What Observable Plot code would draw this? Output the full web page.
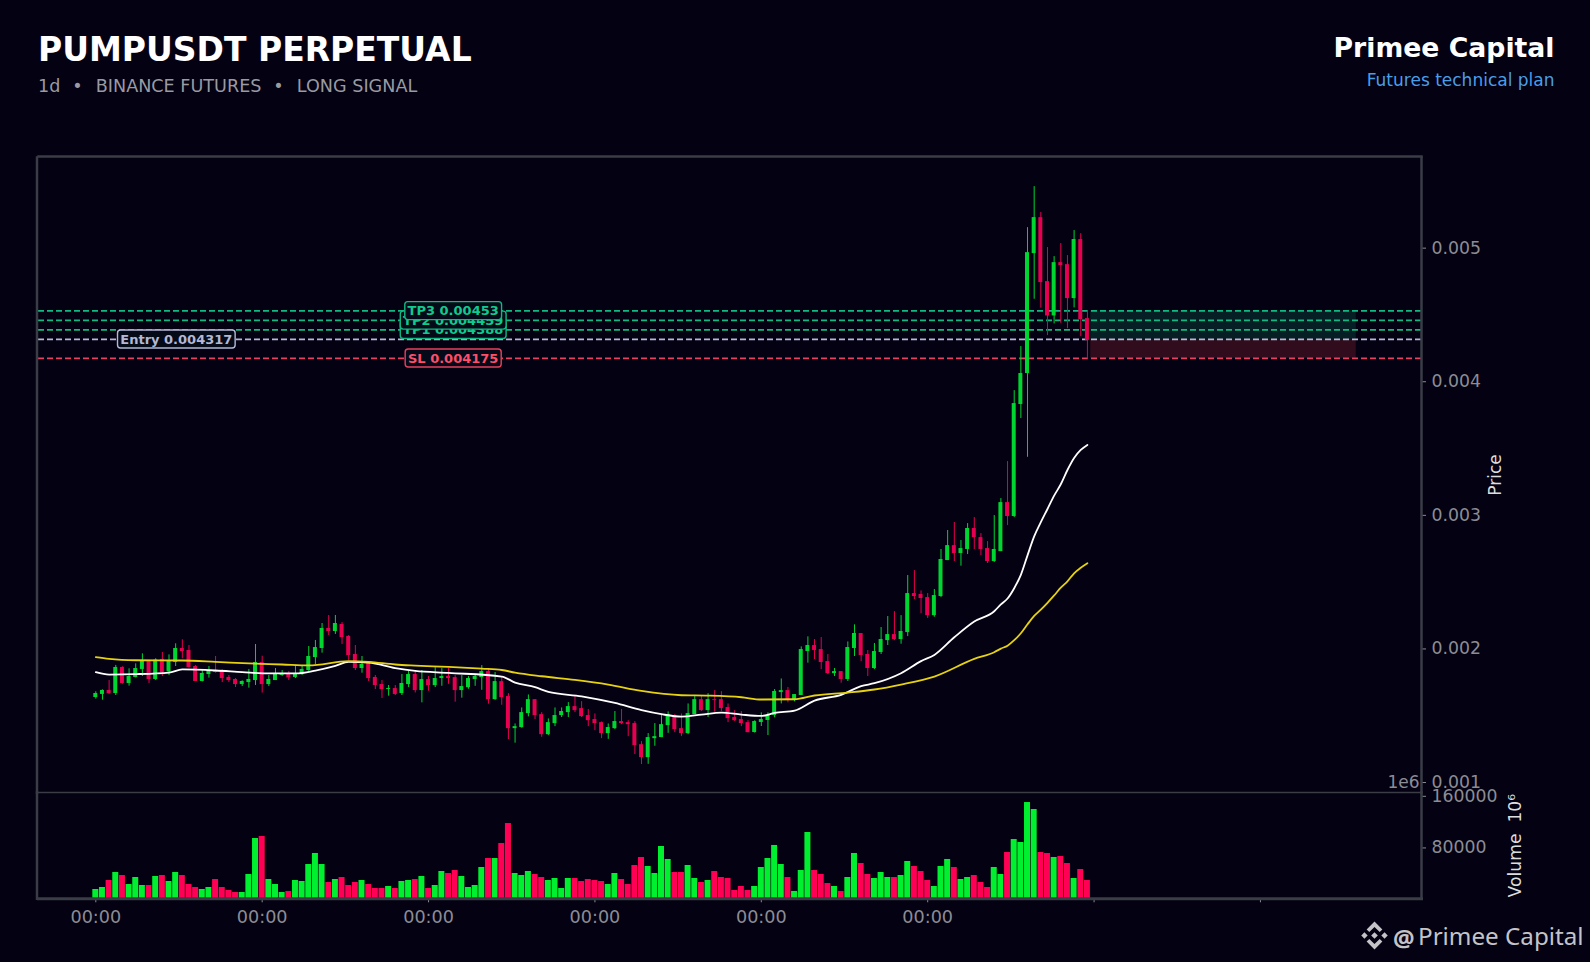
<!DOCTYPE html>
<html>
<head>
<meta charset="utf-8">
<script src="https://cdn.jsdelivr.net/npm/d3@7"></script>
<script src="https://cdn.jsdelivr.net/npm/@observablehq/plot@0.6"></script>
<style>
  html, body { margin: 0; padding: 0; background: #030112; width: 1590px; height: 962px; overflow: hidden; font-family: "DejaVu Sans", sans-serif; }
  #page { position: relative; width: 1590px; height: 962px; }
  .t { position: absolute; white-space: pre; line-height: 1; }
  #price, #volume { position: absolute; left: 0; }
  #price { top: 157px; } #volume { top: 792px; }
</style>
</head>
<body>
<div id="page">
  <div class="t" style="left:38px;top:33px;font-size:33px;font-weight:bold;color:#fff">PUMPUSDT PERPETUAL</div>
  <div class="t" style="left:38px;top:78px;font-size:17.6px;color:#9a9aa2">1d  <span style="margin:0 2px 0 0.6px">•</span>  BINANCE FUTURES  <span style="margin:0 2px 0 0.6px">•</span>  LONG SIGNAL</div>
  <div class="t" style="right:35.5px;top:35px;font-size:26.7px;font-weight:bold;color:#fff">Primee Capital</div>
  <div class="t" style="right:35.5px;top:72px;font-size:17px;color:#4a9ee8">Futures technical plan</div>
  <div id="price"></div>
  <div id="volume"></div>
  <svg style="position:absolute;left:1360px;top:921px" width="29" height="29" viewBox="0 0 28 28" fill="#c4c4c8">
    <path d="M14 10.8l3.2 3.2-3.2 3.2-3.2-3.2z"/>
    <path d="M14 0.5l7.6 7.6-2.6 2.6L14 5.7 9 10.7 6.4 8.1z"/>
    <path d="M14 27.5l7.6-7.6-2.6-2.6L14 22.3 9 17.3 6.4 19.9z"/>
    <path d="M4.3 10.9l3.1 3.1-3.1 3.1L1.2 14z"/>
    <path d="M23.7 10.9l3.1 3.1-3.1 3.1L20.6 14z"/>
  </svg>
  <div class="t" style="left:1393px;top:926px;font-family:'Noto Sans';font-size:24px;font-weight:bold;color:#c4c4c8">@</div>
  <div class="t" style="left:1418px;top:924px;font-family:'Noto Sans';font-size:24.2px;color:#c4c4c8">Primee Capital</div>
</div>
<script>
// Prices are in millionths of USDT.
const UNIT = 1e-6;
// The readings were taken about one pixel off the axis; this corrects them.
const READING_CORRECTION = -7.5;
const open = [1644,1667,1697,1674,1869,1749,1794,1854,1914,1779,
1929,1836,1906,2011,1996,1876,1764,1816,1839,1839,
1794,1779,1741,1756,1771,1906,1741,1771,1809,1816,
1794,1816,1846,1943,2011,2161,2138,2191,2101,1966,
1861,1899,1794,1741,1704,1711,1674,1741,1816,1696,
1778,1733,1786,1801,1793,1696,1718,1778,1793,1838,
1628,1763,1651,1411,1419,1524,1628,1516,1366,1449,
1509,1531,1576,1561,1509,1479,1456,1374,1411,1464,
1456,1449,1291,1194,1336,1344,1434,1509,1411,1374,
1516,1628,1546,1628,1628,1569,1494,1479,1456,1382,
1457,1472,1509,1681,1696,1629,1659,1988,2033,2003,
1913,1823,1838,1779,2011,2123,1966,1861,1981,2070,
2115,2078,2130,2422,2415,2392,2257,2400,2669,2781,
2722,2752,2909,2841,2759,2662,2736,3103,2999,3837,
4069,4967,5236,4757,4500,4899,4884,4630,5072,4480];
const high = [1687,1701,1771,1884,1874,1859,1896,1971,1921,1934,
1981,1963,2046,2076,2033,1884,1846,1876,1951,1851,
1809,1786,1769,1854,2041,1953,1809,1861,1846,1839,
1884,1884,2026,2071,2198,2258,2258,2205,2108,2033,
1951,1906,1809,1771,1734,1734,1816,1839,1846,1846,
1801,1868,1861,1861,1808,1808,1801,1816,1883,1853,
1831,1801,1673,1446,1566,1663,1628,1531,1484,1566,
1566,1606,1651,1613,1554,1521,1461,1446,1539,1554,
1471,1464,1314,1374,1449,1516,1536,1516,1521,1596,
1658,1658,1673,1696,1688,1596,1546,1539,1471,1470,
1529,1529,1704,1783,1719,1666,2023,2098,2078,2093,
1966,1861,1838,2060,2188,2123,1996,2048,2168,2250,
2287,2257,2557,2594,2442,2422,2452,2752,2894,2954,
2819,2946,2991,2871,2811,3006,3133,3410,3941,4271,
5161,5468,5274,5012,4944,5042,4952,5139,5116,4540];
const low = [1632,1624,1667,1659,1744,1729,1791,1801,1749,1771,
1801,1809,1876,1934,1864,1764,1761,1789,1826,1756,
1756,1719,1726,1714,1734,1677,1726,1771,1801,1771,
1786,1809,1839,1891,1976,2108,2116,2041,1921,1846,
1826,1764,1704,1637,1654,1659,1659,1719,1678,1604,
1691,1718,1728,1743,1609,1639,1706,1728,1698,1594,
1623,1586,1329,1302,1414,1499,1479,1346,1359,1426,
1494,1494,1531,1494,1426,1396,1336,1331,1404,1441,
1351,1217,1142,1144,1279,1344,1376,1381,1351,1366,
1516,1539,1494,1534,1539,1456,1464,1426,1381,1378,
1427,1359,1492,1596,1604,1611,1659,1901,1928,1853,
1816,1801,1751,1764,1951,1913,1801,1853,1966,2033,
2070,2043,2100,2377,2272,2235,2245,2392,2669,2662,
2627,2714,2752,2707,2647,2654,2736,2931,2990,3732,
3442,4625,4558,4353,4440,4445,4405,4560,4345,4176];
const close = [1674,1697,1672,1869,1749,1801,1861,1916,1779,1924,
1831,1914,2011,1988,1869,1764,1824,1846,1831,1786,
1771,1741,1764,1779,1906,1741,1779,1824,1816,1791,
1824,1854,1951,2018,2161,2138,2198,2093,1958,1861,
1891,1786,1734,1704,1711,1667,1749,1816,1696,1778,
1733,1786,1801,1786,1696,1726,1786,1801,1838,1628,
1763,1643,1411,1426,1531,1628,1509,1366,1456,1509,
1539,1576,1546,1501,1471,1449,1374,1419,1464,1449,
1441,1284,1194,1344,1351,1441,1516,1404,1374,1524,
1628,1546,1628,1621,1561,1486,1471,1449,1381,1464,
1479,1509,1689,1696,1629,1666,2003,2033,1996,1906,
1823,1838,1779,2018,2123,1958,1861,1988,2078,2115,
2078,2138,2422,2400,2385,2257,2407,2677,2781,2722,
2759,2909,2841,2752,2662,2752,3103,2999,3844,4069,
4974,5236,4750,4500,4899,4877,4630,5072,4473,4317];
const volume = [14400,17500,28400,40800,36100,22200,33000,20600,20600,34600,
36100,26800,40800,36100,22200,17500,14400,17500,29900,17500,
12900,9800,9800,37700,93400,96500,29900,22200,9800,11400,
28400,26800,53100,70200,53100,25300,29900,33000,20600,25300,
28400,22200,16000,16000,19100,16000,26800,28400,29900,34600,
16000,20600,42300,39200,43900,34600,17500,20600,48500,62400,
62400,85700,116600,39200,36100,42300,37700,33000,28400,31500,
16000,31500,31500,26800,29900,28400,26800,22200,39200,29900,
22200,51600,64000,50100,39200,81000,60900,40800,40800,51600,
31500,25300,28400,42300,33000,31500,12900,19100,12900,19100,
48500,62400,82600,53100,33000,11400,43900,102700,43900,37700,
23700,19100,11400,33000,70200,54700,37700,31500,40800,33000,
33000,36100,57800,50100,42300,28400,19100,50100,60900,48500,
29900,33000,36100,25300,17500,48500,37700,71700,91800,87200,
149100,138300,71700,70200,64000,65500,54700,31500,45400,28400];

const maFastIndex = [0,2,6,11,13,18,22,26,30,33,36,38,41,45,48,53,61,63,66,68,73,78,82,85,88,91,94,97,100,102,105,108,112,115,117,121,124,126,129,132,135,136,137,138,139,140,141,142,143,144,145,146,147,148,149];
const maFast = [1834,1816,1819,1831,1854,1846,1834,1824,1824,1846,1881,1911,1906,1864,1843,1828,1801,1756,1721,1686,1653,1603,1549,1519,1501,1516,1531,1516,1506,1529,1546,1621,1664,1729,1751,1826,1916,1963,2095,2213,2290,2341,2385,2462,2562,2708,2850,2956,3055,3155,3240,3347,3437,3497,3535];
const maSlowIndex = [0,2,6,13,18,23,28,32,38,41,45,48,53,58,61,63,67,72,77,82,88,92,97,100,105,108,113,117,121,126,132,135,136,137,138,139,140,141,142,143,144,145,146,147,148,149];
const maSlow = [1946,1933,1923,1921,1911,1899,1891,1884,1916,1911,1891,1883,1873,1860,1850,1830,1803,1776,1741,1693,1661,1658,1646,1629,1631,1659,1681,1704,1741,1801,1933,1983,2010,2032,2073,2125,2192,2255,2302,2353,2408,2466,2514,2574,2615,2649];

const levelNames = ["SL","Entry","TP1","TP2","TP3"];
const levelValues = [0.004175,0.004317,0.004388,0.004459,0.00453];
const priceTicks = [0.001,0.002,0.003,0.004,0.005];
const volumeTicks = [80000,160000];
const timeTicks = [0,25,50,75,100,125,150,175];
const timeLabel = "00:00";

const toPrice = v => (v + READING_CORRECTION) * UNIT;
const candles = open.map((o,i)=>({i,open:toPrice(o),high:toPrice(high[i]),low:toPrice(low[i]),close:toPrice(close[i]),volume:volume[i],up:close[i]>=o}));
const fastLine = maFastIndex.map((i,k)=>({i,v:toPrice(maFast[k])}));
const slowLine = maSlowIndex.map((i,k)=>({i,v:toPrice(maSlow[k])}));
const levels = levelNames.map((name,k)=>({name,value:levelValues[k],label:`${name} ${levelValues[k]}`}));

const levelColor = d => d.name==="SL" ? "#e8405e" : d.name==="Entry" ? "#b4b8d4" : "#10b981";
const textColor = d => d.name==="SL" ? "#ff4d6a" : d.name==="Entry" ? "#b4b8d4" : "#12c98e";
const xDomain = [-8.61,199.2];
const frameColor = "#3a3c46";
const axisColor = "#8c8c94";
const style = {background:"transparent",overflow:"visible",fontFamily:"'DejaVu Sans',sans-serif"};

const pricePlot = Plot.plot({
  width:1590,height:635,marginLeft:38,marginRight:169,marginTop:0,marginBottom:0,style,
  x:{domain:xDomain,axis:null},
  y:{domain:[0.0009255,0.0056785],axis:null},
  marks:[
    Plot.rect([{a:levelValues[1],b:levelValues[4]}],{x1:149.5,x2:189.4,y1:"a",y2:"b",fill:"#10b981",fillOpacity:0.17}),
    Plot.rect([{a:levelValues[0],b:levelValues[1]}],{x1:149.5,x2:189.4,y1:"a",y2:"b",fill:"#e83a48",fillOpacity:0.2}),
    Plot.ruleY(levels,{y:"value",stroke:levelColor,strokeWidth:1.7,strokeDasharray:"6,3"}),
    Plot.ruleX(candles,{x:"i",y1:"low",y2:"high",stroke:d=>d.up?"#00d630":"#e6004f",strokeWidth:1}),
    Plot.rect(candles,{x1:d=>d.i-0.3,x2:d=>d.i+0.3,y1:"open",y2:"close",fill:d=>d.up?"#00d630":"#e6004f"}),
    Plot.line(fastLine,{x:"i",y:"v",stroke:"#ffffff",strokeWidth:1.8,curve:"monotone-x"}),
    Plot.line(slowLine,{x:"i",y:"v",stroke:"#e6d210",strokeWidth:1.8,curve:"monotone-x"}),
    Plot.text(levels,{x:d=>d.name==="Entry"?12.1:53.7,y:"value",text:"label",fill:textColor,fontSize:13,fontWeight:"bold",className:"level-labels"}),
    Plot.axisY({anchor:"right",ticks:priceTicks,tickFormat:d3.format(".3f"),tickSize:4,tickPadding:6,fontSize:17.3,color:axisColor,label:null}),
    Plot.text(["Price"],{frameAnchor:"right",dx:74,rotate:-90,textAnchor:"middle",fill:"#dddddd",fontSize:17}),
    Plot.text(["1e6"],{frameAnchor:"bottom-right",dx:-2,dy:-5,fill:axisColor,fontSize:17}),
    Plot.frame({anchor:"top",stroke:frameColor,strokeWidth:2.5,dy:-1}),
    Plot.frame({anchor:"left",stroke:frameColor,strokeWidth:2.5,dx:-1.5}),
    Plot.frame({anchor:"right",stroke:frameColor,strokeWidth:2.5}),
    Plot.frame({anchor:"bottom",stroke:frameColor,strokeWidth:1.5})
  ]
});

const volumePlot = Plot.plot({
  width:1590,height:139,marginLeft:38,marginRight:169,marginTop:0,marginBottom:32.7,style,
  x:{domain:xDomain,axis:null},
  y:{domain:[0,164650],axis:null},
  marks:[
    Plot.rect(candles,{x1:d=>d.i-0.45,x2:d=>d.i+0.45,y1:0,y2:"volume",fill:d=>d.up?"#00f02f":"#ff0055"}),
    Plot.axisY({anchor:"right",ticks:volumeTicks,tickFormat:d=>String(d),tickSize:4,tickPadding:6,fontSize:17.3,color:axisColor,label:null,dy:0.8}),
    Plot.axisX({anchor:"bottom",ticks:timeTicks,tickFormat:d=>d<150?timeLabel:"",tickSize:4,tickPadding:8,fontSize:17.6,color:axisColor,label:null}),
    Plot.text(["Volume  10⁶"],{frameAnchor:"right",dx:94,rotate:-90,textAnchor:"middle",fill:"#dddddd",fontSize:17.2}),
    Plot.frame({anchor:"left",stroke:frameColor,strokeWidth:2.5,dx:-1.5}),
    Plot.frame({anchor:"right",stroke:frameColor,strokeWidth:2.5}),
    Plot.frame({anchor:"bottom",stroke:frameColor,strokeWidth:3})
  ]
});

document.getElementById("price").appendChild(pricePlot);
document.getElementById("volume").appendChild(volumePlot);

// Rounded boxes behind the level labels, sized from the text that Plot drew.
const labelGroup = pricePlot.querySelector(".level-labels");
const labelNodes = Array.from(labelGroup.querySelectorAll("text"));
labelNodes.forEach((node,k)=>{
  const b = node.getBBox();
  const r = document.createElementNS("http://www.w3.org/2000/svg","rect");
  r.setAttribute("x",b.x-2.8); r.setAttribute("y",b.y-1.5);
  r.setAttribute("width",b.width+5.6); r.setAttribute("height",b.height+3);
  r.setAttribute("rx",3);
  const t = node.getAttribute("transform"); if (t) r.setAttribute("transform",t);
  r.setAttribute("fill","#040a18");
  r.setAttribute("stroke",levelColor(levels[k]));
  r.setAttribute("stroke-width",1.4);
  labelGroup.insertBefore(r,node);
});
</script>
</body>
</html>
